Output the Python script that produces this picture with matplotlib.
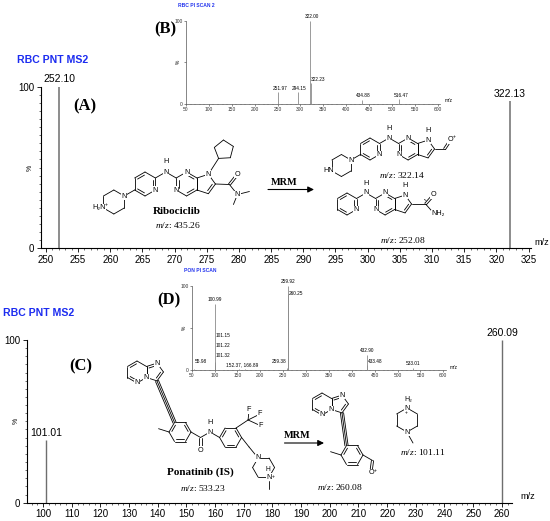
import numpy as np
import matplotlib
matplotlib.use('Agg')
import matplotlib.pyplot as plt
from matplotlib.ticker import MultipleLocator

plt.rcParams['font.family'] = ['Liberation Sans', 'DejaVu Sans']
plt.rcParams['mathtext.fontset'] = 'custom'
plt.rcParams['mathtext.rm'] = 'Liberation Serif'
plt.rcParams['mathtext.it'] = 'Liberation Serif:italic'

# ---- spectrum data ----
a_mz = [252.10, 322.13]          # RBC product ion spectrum, main (A)
a_int = [100, 91]
a_lab = ['252.10', '322.13']

c_mz = [101.01, 260.09]          # PON product ion spectrum, main (C)
c_int = [38.5, 100]
c_lab = ['101.01', '260.09']

b_mz = [251.97, 294.15, 322.00, 322.23, 434.88, 516.47]   # inset (B)
b_int = [14, 14, 100, 25, 5, 5.5]

d_mz = [55.98, 100.99, 101.15, 101.22, 101.32, 152.37, 166.89,
        259.38, 259.92, 260.25, 432.90, 433.48, 533.01]    # inset (D)
d_int = [2, 79, 10, 6, 4, 1, 1, 3, 100, 90, 18, 6, 3]

W, H = 550, 521
fig = plt.figure(figsize=(5.5, 5.21), dpi=100)


def ax_px(l, t, r, b):
    return fig.add_axes([l / W, 1 - b / H, (r - l) / W, (b - t) / H])


def style_main(ax, xlim, major, minor, mz_off):
    ax.set_xlim(xlim)
    ax.set_ylim(0, 100)
    ax.set_facecolor('none')
    for s in ['top', 'right']:
        ax.spines[s].set_visible(False)
    for s in ['left', 'bottom']:
        ax.spines[s].set_linewidth(0.8)
    ax.xaxis.set_major_locator(MultipleLocator(major))
    ax.xaxis.set_minor_locator(MultipleLocator(minor))
    ax.set_yticks([0, 100])
    ax.yaxis.set_minor_locator(MultipleLocator(5))
    ax.tick_params(which='major', length=3, width=0.6, labelsize=7, pad=1.5)
    ax.tick_params(which='minor', length=1.5, width=0.4)
    ax.text(-0.022, 0.5, '%', transform=ax.transAxes, rotation=90,
            ha='center', va='center', fontsize=5)
    ax.annotate('m/z', xy=(1, 0), xycoords='axes fraction', xytext=(mz_off, 1),
                textcoords='offset points', fontsize=6.6, ha='left', va='bottom')


def style_inset(ax, title):
    ax.set_xlim(50, 605)
    ax.set_ylim(0, 100)
    ax.set_facecolor('none')
    for s in ['top', 'right']:
        ax.spines[s].set_visible(False)
    for s in ['left', 'bottom']:
        ax.spines[s].set_linewidth(0.5)
        ax.spines[s].set_color('#555555')
    ax.xaxis.set_major_locator(MultipleLocator(50))
    ax.xaxis.set_minor_locator(MultipleLocator(10))
    ax.set_yticks([0, 50, 100])
    ax.set_yticklabels(['0', '', '100'])
    ax.tick_params(which='major', length=1.5, width=0.4, labelsize=3.5, pad=0.8,
                   colors='#333333')
    ax.tick_params(which='minor', length=0.8, width=0.3, colors='#555555')
    ax.text(-0.03, 0.5, '%', transform=ax.transAxes, rotation=90,
            ha='center', va='center', fontsize=3.5)
    ax.annotate('m/z', xy=(1, 0), xycoords='axes fraction', xytext=(3, 0.5),
                textcoords='offset points', fontsize=3.5, ha='left', va='bottom')
    ax.text(-0.03, 1.18, title, transform=ax.transAxes, fontsize=3.6,
            fontweight='bold', color='#2233ee', ha='left', va='center')


# ---- main spectrum A ----
axA = ax_px(40.6, 86.7, 530.5, 248.3)
style_main(axA, (249.18, 325.3), 5, 1, 3)
axA.vlines(a_mz, 0, a_int, color='#6e6e6e', lw=1.1)
for m, i, s in zip(a_mz, a_int, a_lab):
    axA.text(m, i + 1.5, s, ha='center', va='bottom', fontsize=7.5, clip_on=False)

# ---- main spectrum C ----
axC = ax_px(26.5, 340, 512.4, 502.7)
style_main(axC, (94.2, 263.7), 10, 2, 6)
axC.vlines(c_mz, 0, c_int, color='#6e6e6e', lw=1.0)
for m, i, s in zip(c_mz, c_int, c_lab):
    axC.text(m, i + 1.5, s, ha='center', va='bottom', fontsize=7.5, clip_on=False)

# ---- inset B ----
axB = ax_px(186, 20.7, 440, 104)
style_inset(axB, 'RBC PI SCAN 2')
axB.vlines(b_mz, 0, b_int, color='#8a8a8a', lw=0.6)
b_txt = [(251.97, 16, 'center'), (294.15, 16, 'center'), (322.00, 102, 'center'),
         (322.23, 27, 'left'), (434.88, 7, 'center'), (516.47, 7.5, 'center')]
for m, y, ha in b_txt:
    axB.text(m + (1 if ha == 'left' else 3), y, '%.2f' % m, ha=ha, va='bottom',
             fontsize=3.4, clip_on=False)

# ---- inset D ----
axD = ax_px(191.7, 286, 445.6, 370.3)
style_inset(axD, 'PON PI SCAN')
axD.vlines(d_mz, 0, d_int, color='#8a8a8a', lw=0.6)
d_txt = [('55.98', 57, 7, 'left'), ('100.99', 101, 81, 'center'),
         ('101.15', 102, 38, 'left'), ('101.22', 102, 26, 'left'),
         ('101.32', 102, 15, 'left'), ('152.37, 166.89', 161, 3, 'center'),
         ('259.38', 257, 7, 'right'), ('259.92', 261, 102, 'center'),
         ('260.25', 262, 88, 'left'), ('432.90', 434, 20, 'center'),
         ('433.48', 435, 8, 'left'), ('533.01', 534, 5, 'center')]
for s, x, y, ha in d_txt:
    axD.text(x, y, s, ha=ha, va='bottom', fontsize=3.4, clip_on=False)

# ---- overlay for labels and structures ----
ov = fig.add_axes([0, 0, 1, 1], zorder=10)
ov.set_xlim(0, W)
ov.set_ylim(H, 0)
ov.axis('off')
ov.patch.set_visible(False)

blue = '#1c2cf0'
ov.text(17, 60, 'RBC PNT MS2', fontsize=7.6, fontweight='bold', color=blue,
        ha='left', va='center')
ov.text(3, 313, 'RBC PNT MS2', fontsize=7.6, fontweight='bold', color=blue,
        ha='left', va='center')

serif = 'Liberation Serif'
for s, x, y in [('(A)', 85, 106), ('(B)', 165, 29), ('(C)', 81, 366), ('(D)', 169, 300)]:
    ov.text(x, y, s, family=serif, fontweight='bold', fontsize=12,
            ha='center', va='center')

LW = 0.6


def P(p):
    return np.asarray(p, dtype=float)


def bond(p, q, lw=LW):
    p, q = P(p), P(q)
    ov.plot([p[0], q[0]], [p[1], q[1]], color='k', lw=lw, solid_capstyle='round')


def ring(pts):
    for i in range(len(pts)):
        bond(pts[i], pts[(i + 1) % len(pts)])


def dbl(p, q, c, frac=0.2, shrink=0.17):
    p, q, c = P(p), P(q), P(c)
    d = q - p
    mid = (p + q) / 2
    n = c - mid
    n = n / np.linalg.norm(n) * frac * np.linalg.norm(d)
    a = p + d * shrink + n
    b = q - d * shrink + n
    bond(a, b)


def pair(p, q, off=1.3):
    p, q = P(p), P(q)
    d = q - p
    n = np.array([-d[1], d[0]]) / np.linalg.norm(d) * off
    bond(p + n, q + n)
    bond(p - n, q - n)


def triple(p, q, off=1.6):
    p, q = P(p), P(q)
    d = q - p
    n = np.array([-d[1], d[0]]) / np.linalg.norm(d) * off
    bond(p, q)
    bond(p + n, q + n)
    bond(p - n, q - n)


def hexv(cx, cy, b, flat=False):
    st = 0 if flat else 30
    return [np.array([cx + b * np.cos(np.radians(st + 60 * k)),
                      cy - b * np.sin(np.radians(st + 60 * k))]) for k in range(6)]


def pent_on_edge(A, B, ref, b):
    A, B, ref = P(A), P(B), P(ref)
    mid = (A + B) / 2
    d = B - A
    n = np.array([-d[1], d[0]]) / np.linalg.norm(d)
    if np.dot(n, mid - ref) < 0:
        n = -n
    c = mid + n * 0.6882 * b
    R = 0.8507 * b
    a0 = np.arctan2(A[1] - c[1], A[0] - c[0])
    for s in (1, -1):
        pts = [c + R * np.array([np.cos(a0 + s * k * np.radians(72)),
                                 np.sin(a0 + s * k * np.radians(72))]) for k in range(5)]
        if np.linalg.norm(pts[4] - B) < 0.01 * b:
            return pts, c
    return pts, c


def atom(p, s, fs=5.2, dx=0, dy=0):
    p = P(p)
    ov.text(p[0] + dx, p[1] + dy, s, ha='center', va='center', fontsize=fs,
            bbox=dict(boxstyle='square,pad=0.06', fc='white', ec='none'), zorder=12)


def tiny(p, s, fs=3.6):
    p = P(p)
    ov.text(p[0], p[1], s, ha='center', va='center', fontsize=fs, zorder=13)


def ribo_core(cx, cy, b, pyrrole_h=False):
    pyr = hexv(cx, cy, b)
    ring(pyr)
    c1 = (cx, cy)
    for i, j in [(1, 2), (3, 4), (5, 0)]:
        dbl(pyr[i], pyr[j], c1)
    nh = pyr[0] + b * np.array([0.866, -0.5])
    bond(pyr[0], nh)
    pc = np.array([cx + 3.464 * b, cy])
    pym = hexv(pc[0], pc[1], b)
    ring(pym)
    bond(nh, pym[2])
    for i, j in [(2, 3), (4, 5), (0, 1)]:
        dbl(pym[i], pym[j], pc)
    pent, ppc = pent_on_edge(pym[0], pym[5], pc, b)
    ring(pent)
    dbl(pent[2], pent[3], ppc)
    atom(pyr[5], 'N')
    atom(nh, 'N')
    atom(nh + np.array([0, -0.85 * b]), 'H')
    atom(pym[1], 'N')
    atom(pym[3], 'N')
    atom(pent[1], 'N')
    if pyrrole_h:
        atom(pent[1] + np.array([0, -0.85 * b]), 'H')
    return pyr, pym, pent


def pona_core(hx, hy, rx, ry, b):
    h6 = hexv(hx, hy, b)
    ring(h6)
    for i, j in [(1, 2), (3, 4)]:
        dbl(h6[i], h6[j], (hx, hy))
    pent, pc = pent_on_edge(h6[0], h6[5], (hx, hy), b)
    ring(pent)
    dbl(pent[0], pent[1], pc)
    dbl(pent[2], pent[3], pc)
    r1 = hexv(rx, ry, b, flat=True)
    ring(r1)
    for i, j in [(0, 1), (2, 3), (4, 5)]:
        dbl(r1[i], r1[j], (rx, ry))
    triple(pent[3], r1[2])
    bond(r1[3], r1[3] + b * np.array([-0.95, -0.3]))
    atom(h6[4], 'N')
    atom(h6[5], 'N')
    atom(pent[1], 'N')
    return r1


def mz_label(x, y, val, fs=6.8):
    ov.text(x, y, r'$\mathit{m/z}$: ' + val, family=serif, fontsize=fs,
            ha='center', va='center')


# Ribociclib
b = 12
pyr, pym, pent = ribo_core(145, 184, b)
pn = pyr[3] + b * np.array([-0.866, 0.5])
bond(pyr[3], pn)
pip = hexv(*(pn + b * np.array([-0.866, 0.5])), b)
ring(pip)
atom(pip[0], 'N')
ov.text(pip[3][0] + 2.6, pip[3][1], 'H₂N', ha='right', va='center', fontsize=5.2,
        bbox=dict(boxstyle='square,pad=0.06', fc='white', ec='none'), zorder=12)
tiny(pip[3] + np.array([2.8, -3.5]), '+')
n7 = pent[1]
cpc = np.array([224.0, 150.0])
a0 = np.arctan2(n7[1] - cpc[1], n7[0] - cpc[0])
cp = [cpc + 10 * np.array([np.cos(a0 + k * np.radians(72)),
                           np.sin(a0 + k * np.radians(72))]) for k in range(5)]
ring(cp)
bond(n7, cp[0])
c6 = pent[2]
cc = c6 + np.array([14, 0.5])
o = cc + np.array([8, -10])
nam = cc + np.array([8, 10])
bond(c6, cc)
pair(cc, o, 1.1)
bond(cc, nam)
bond(nam, nam + np.array([12, -3]))
bond(nam, nam + np.array([-4, 10]))
atom(o, 'O')
atom(nam, 'N')
ov.text(177, 211, 'Ribociclib', family=serif, fontweight='bold', fontsize=8,
        ha='center', va='center')
mz_label(178, 225, '435.26')

# MRM arrows
for tx, ty, x0, x1, ya in [(284, 182.5, 268, 314, 189.5), (297, 435, 284.5, 324, 443)]:
    ov.text(tx, ty, 'MRM', family=serif, fontweight='bold', fontsize=7.4,
            ha='center', va='center')
    ov.annotate('', xy=(x1, ya), xytext=(x0, ya),
                arrowprops=dict(arrowstyle='-|>', lw=0.8, color='k',
                                mutation_scale=9, shrinkA=0, shrinkB=0))

# product m/z 322.14
b = 11
pyr, pym, pent = ribo_core(370, 149, b, pyrrole_h=True)
pn = pyr[3] + b * np.array([-0.866, 0.5])
bond(pyr[3], pn)
pip = hexv(*(pn + b * np.array([-0.866, 0.5])), b)
ring(pip)
atom(pip[0], 'N')
ov.text(pip[3][0] + 2.6, pip[3][1], 'HN', ha='right', va='center', fontsize=5.2,
        bbox=dict(boxstyle='square,pad=0.06', fc='white', ec='none'), zorder=12)
c6 = pent[2]
cc = c6 + np.array([10, 0])
o = cc + np.array([6, -9])
bond(c6, cc)
pair(cc, o, 1.1)
atom(o, 'O')
tiny(o + np.array([3.5, -3.5]), '+')
mz_label(402, 175, '322.14')

# product m/z 252.08
pyr, pym, pent = ribo_core(347, 204, b, pyrrole_h=True)
c6 = pent[2]
cc = c6 + np.array([14, 0])
o = cc + np.array([8, -9])
nam = cc + np.array([8, 9])
bond(c6, cc)
pair(cc, o, 1.1)
bond(cc, nam)
atom(o, 'O')
ov.text(nam[0] - 2.5, nam[1] + 1, 'NH₂', ha='left', va='center', fontsize=5.2,
        bbox=dict(boxstyle='square,pad=0.06', fc='white', ec='none'), zorder=12)
tiny(cc + np.array([0, -3.5]), '•+', 3)
mz_label(403, 240, '252.08')

# Ponatinib
b = 11
r1 = pona_core(137, 372, 180, 432, b)
cc = r1[0] + b * np.array([0.866, 0.5])
bond(r1[0], cc)
o = cc + np.array([0, b])
pair(cc, o, 1.1)
atom(o + np.array([0, 1.5]), 'O')
nh = cc + b * np.array([0.866, -0.5])
bond(cc, nh)
atom(nh, 'N')
atom(nh + np.array([0, -9]), 'H')
left2 = nh + b * np.array([0.866, 0.5])
bond(nh, left2)
r2c = left2 + np.array([b, 0])
r2 = hexv(r2c[0], r2c[1], b, flat=True)
ring(r2)
for i, j in [(0, 1), (2, 3), (4, 5)]:
    dbl(r2[i], r2[j], r2c)
ccf = r2[1] + np.array([12, -8])
bond(r2[1], ccf)
for f in [np.array([1, -10]), np.array([12, -6]), np.array([13, 6])]:
    bond(ccf, ccf + f * 0.75)
    atom(ccf + f, 'F')
ch2 = r2[0] + np.array([7.5, 9.5])
bond(r2[0], ch2)
pul = ch2 + np.array([9, 11])
pip = hexv(*(pul + b * np.array([0.5, 0.866])), b, flat=True)
bond(ch2, pip[2])
ring(pip)
atom(pip[2], 'N')
atom(pip[5], 'N')
atom(pip[5] + np.array([-1.5, -8]), 'H', 4.8)
tiny(pip[5] + np.array([4.5, -1]), '+')
bond(pip[5] + np.array([0, 3.5]), pip[5] + np.array([0, 12]))
ov.text(200, 472, 'Ponatinib (IS)', family=serif, fontweight='bold', fontsize=8,
        ha='center', va='center')
mz_label(203, 488, '533.23')

# product m/z 260.08
r1 = pona_core(322, 404, 352, 455, b)
cc = r1[0] + b * np.array([0.866, 0.5])
bond(r1[0], cc)
o = cc + np.array([-1.5, b])
pair(cc, o, 1.1)
atom(o + np.array([0, 1.5]), 'O')
tiny(o + np.array([4, -1]), '+')
mz_label(340, 487, '260.08')

# product m/z 101.11 (methylpiperazine)
mp = hexv(407, 420, 12)
ring(mp)
atom(mp[1], 'N')
atom(mp[1] + np.array([1.5, -9]), 'H₂', 5)
tiny(mp[1] + np.array([-1, 4.5]), '+')
atom(mp[4], 'N')
bond(mp[4] + np.array([1.5, 3]), mp[4] + np.array([6, 11]))
mz_label(423, 452, '101.11')

fig.savefig('out.png', dpi=100)
